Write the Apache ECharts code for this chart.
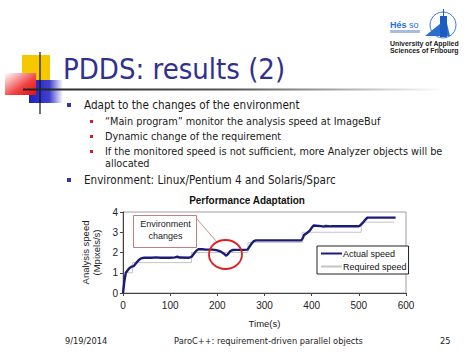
<!DOCTYPE html>
<html><head><meta charset="utf-8">
<script src="https://cdn.jsdelivr.net/npm/echarts@6/dist/echarts.min.js"></script>
<style>html,body{margin:0;padding:0;background:#fff}#c{width:474px;height:355px}</style>
</head><body><div id="c"></div>
<script>
// ---- data ----
const chartTitle = 'Performance Adaptation';
const seriesNames = ['Actual speed', 'Required speed'];
const xTicks = [0, 100, 200, 300, 400, 500, 600];
const yTicks = [0, 1, 2, 3, 4];
const actualT = [0,3,6,10,14,18,23,28,33,38,45,60,70,80,100,110,115,120,140,146,150,155,160,168,175,190,198,205,211,215,219,223,227,232,240,255,264,268,272,277,282,300,340,378,381,384,388,392,396,400,404,410,420,425,430,440,445,460,480,500,504,508,513,518,540,560,578];
const actualV = [0,0.6,1.0,1.12,1.24,1.3,1.33,1.48,1.62,1.71,1.74,1.74,1.76,1.74,1.74,1.76,1.79,1.75,1.74,1.8,1.93,2.08,2.16,2.16,2.14,2.14,2.12,2.07,1.99,1.92,1.84,1.93,2.06,2.12,2.13,2.13,2.14,2.28,2.42,2.56,2.6,2.6,2.6,2.6,2.7,2.87,2.93,3.0,3.08,3.22,3.33,3.32,3.3,3.28,3.31,3.29,3.3,3.3,3.3,3.3,3.36,3.45,3.6,3.72,3.72,3.72,3.72];
const requiredT = [5,20,20,145,145,265,265,380,380,505,505,575];
const requiredV = [1,1,1.5,1.5,2,2,2.5,2.5,3,3,3.5,3.5];

const slideTitle = 'PDDS: results (2)';
const bullets1 = ['Adapt to the changes of the environment', 'Environment: Linux/Pentium 4 and Solaris/Sparc'];
const bullets2 = ['\u201cMain program\u201d monitor the analysis speed at ImageBuf', 'Dynamic change of the requirement', 'If the monitored speed is not sufficient, more Analyzer objects will be', 'allocated'];
const footer = ['9/19/2014', 'ParoC++: requirement-driven parallel objects', '25'];

const zip = (a, b) => a.map((v, i) => [v, b[i]]);
const SF = '"DejaVu Sans Condensed", "DejaVu Sans", sans-serif';
const AF = '"Liberation Sans", Arial, sans-serif';
const navy = '#30308f';

const chart = echarts.init(document.getElementById('c'), null, {renderer: 'svg'});

function txt(x, y, t, size, color, extra) {
  return Object.assign({type: 'text', x: x, y: y, z: 10,
    style: Object.assign({text: t, fontSize: size, fontFamily: SF, fill: color, textVerticalAlign: 'middle'}, extra || {})});
}

const graphics = [
  // decoration
  {type: 'rect', shape: {x: 22, y: 55, width: 28, height: 28}, style: {fill: '#f5c800'}, z: 1},
  {type: 'rect', shape: {x: 5, y: 73, width: 31, height: 22},
   style: {fill: {type: 'linear', x: 0, y: 0, x2: 1, y2: 1, colorStops: [{offset: 0, color: '#ffffff'}, {offset: 0.6, color: '#f04040'}, {offset: 1, color: '#e01010'}]}}, z: 2},
  {type: 'rect', shape: {x: 29, y: 80, width: 34, height: 23},
   style: {fill: {type: 'linear', x: 0, y: 0, x2: 1, y2: 0, colorStops: [{offset: 0, color: '#2020c0'}, {offset: 0.6, color: '#4040d0'}, {offset: 1, color: '#ffffff'}]}}, z: 1},
  {type: 'line', shape: {x1: 40, y1: 52, x2: 40, y2: 114}, style: {stroke: '#111', lineWidth: 1.2}, z: 3},
  {type: 'rect', shape: {x: 23, y: 88.5, width: 420, height: 2},
   style: {fill: {type: 'linear', x: 0, y: 0, x2: 1, y2: 0, colorStops: [{offset: 0, color: '#222'}, {offset: 0.5, color: '#555'}, {offset: 1, color: '#ffffff'}]}}, z: 3},
  txt(63, 69, slideTitle, 29, navy),
  // logo
  txt(390, 25, 'H\u00e9s', 9, '#2a6fd0', {fontWeight: 'bold', fontFamily: AF}),
  txt(409, 25, 'so', 9, '#2a6fd0', {fontFamily: AF}),
  {type: 'rect', shape: {x: 390, y: 30, width: 30, height: 3}, style: {fill: '#a8bede'}, z: 5},
  {type: 'circle', shape: {cx: 443, cy: 25, r: 13}, style: {fill: 'none', stroke: '#3a7ad8', lineWidth: 1}, z: 5},
  {type: 'polygon', shape: {points: [[425, 36], [446, 19], [450, 36]]}, style: {fill: '#2a6fd0'}, z: 5},
  {type: 'rect', shape: {x: 440, y: 16, width: 7, height: 21}, style: {fill: '#1a5cc0'}, z: 5},
  {type: 'line', shape: {x1: 443.5, y1: 9, x2: 443.5, y2: 16}, style: {stroke: '#1a5cc0', lineWidth: 1}, z: 5},
  txt(390, 43.5, 'University of Applied', 6.9, '#222', {fontWeight: 'bold', fontFamily: AF}),
  txt(390, 50.5, 'Sciences of Fribourg', 6.9, '#222', {fontWeight: 'bold', fontFamily: AF}),
  // bullets
  {type: 'rect', shape: {x: 67, y: 103, width: 4, height: 4}, style: {fill: '#3333aa'}},
  txt(84, 105, bullets1[0], 11.6, '#1a1a1a'),
  {type: 'rect', shape: {x: 90, y: 120, width: 3, height: 3}, style: {fill: '#d02020'}},
  txt(105, 121, bullets2[0], 10.8, '#1a1a1a'),
  {type: 'rect', shape: {x: 90, y: 135, width: 3, height: 3}, style: {fill: '#d02020'}},
  txt(105, 136, bullets2[1], 10.8, '#1a1a1a'),
  {type: 'rect', shape: {x: 90, y: 150, width: 3, height: 3}, style: {fill: '#d02020'}},
  txt(105, 151, bullets2[2], 10.8, '#1a1a1a'),
  txt(105, 163, bullets2[3], 10.8, '#1a1a1a'),
  {type: 'rect', shape: {x: 67, y: 178, width: 4, height: 4}, style: {fill: '#3333aa'}},
  txt(84, 180, bullets1[1], 11.6, '#1a1a1a'),
  // footer
  txt(65, 340, footer[0], 9.2, '#222'),
  txt(268.5, 340, footer[1], 9.2, '#222', {textAlign: 'center'}),
  txt(440, 340, footer[2], 9.2, '#222'),
  // annotation
  {type: 'line', shape: {x1: 196.5, y1: 218.5, x2: 217, y2: 242}, style: {stroke: '#c09090', lineWidth: 1}, z: 20},
  {type: 'rect', shape: {x: 133.5, y: 215.5, width: 63, height: 32}, style: {fill: '#fff', stroke: '#c08080', lineWidth: 1}, z: 20},
  {type: 'text', x: 165.5, y: 230, z: 21, style: {text: 'Environment\nchanges', fontSize: 9, fontFamily: AF, fill: '#222', textAlign: 'center', textVerticalAlign: 'middle', lineHeight: 12}},
  {type: 'ellipse', shape: {cx: 225.5, cy: 254.5, rx: 16.5, ry: 14.5}, style: {fill: 'none', stroke: '#e02020', lineWidth: 1.8}, z: 20}
];

chart.setOption({
  animation: false,
  backgroundColor: '#fff',
  title: {text: chartTitle, left: 247, textAlign: 'center', top: 195,
    textStyle: {fontSize: 10, fontWeight: 'bold', fontFamily: AF, color: '#111'}, padding: 0},
  grid: {left: 123, top: 212, right: 68, bottom: 62, show: true, borderColor: '#a0a0a0', borderWidth: 1},
  legend: {data: seriesNames, orient: 'vertical', left: 317, top: 246,
    borderColor: '#222', borderWidth: 1,
    padding: [3, 2, 3, 3], itemWidth: 21, itemHeight: 10, itemGap: 4,
    itemStyle: {color: 'rgba(0,0,0,0)', borderColor: 'rgba(0,0,0,0)', borderWidth: 0, opacity: 0},
    textStyle: {fontSize: 9, fontFamily: AF, color: '#111', padding: [0, 0, 0, -4]}, backgroundColor: '#fff'},
  xAxis: {type: 'value', min: xTicks[0], max: xTicks[xTicks.length - 1], interval: 100,
    name: 'Time(s)', nameLocation: 'middle', nameGap: 25,
    nameTextStyle: {fontSize: 9.5, fontFamily: AF, color: '#222'},
    axisLine: {lineStyle: {color: '#444'}}, axisTick: {show: true, length: 3, lineStyle: {color: '#444'}},
    axisLabel: {fontSize: 10, fontFamily: AF, color: '#222', margin: 7},
    splitLine: {show: false}},
  yAxis: {type: 'value', min: yTicks[0], max: yTicks[yTicks.length - 1], interval: 1,
    name: 'Analysis speed\n(Mpixels/s)', nameLocation: 'middle', nameGap: 17, nameRotate: 90,
    nameTextStyle: {fontSize: 9.5, fontFamily: AF, color: '#222', lineHeight: 11},
    axisLine: {show: true, lineStyle: {color: '#444'}}, axisTick: {show: true, length: 3, lineStyle: {color: '#444'}},
    axisLabel: {fontSize: 10, fontFamily: AF, color: '#222', margin: 5},
    splitLine: {show: false}},
  series: [
    {name: seriesNames[1], type: 'line', data: zip(requiredT, requiredV), symbol: 'none', z: 2,
     lineStyle: {color: '#c4c4c4', width: 1}, itemStyle: {color: '#c4c4c4'}},
    {name: seriesNames[0], type: 'line', data: zip(actualT, actualV), symbol: 'none', z: 3,
     lineStyle: {color: '#1c1c78', width: 2.4}, itemStyle: {color: '#1c1c78'}}
  ],
  graphic: graphics
});
</script></body></html>
